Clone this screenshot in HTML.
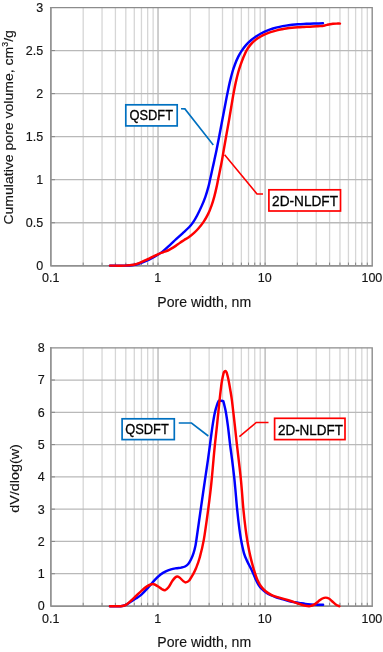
<!DOCTYPE html><html><head><meta charset="utf-8"><title>Pore size distribution</title>
<style>html,body{margin:0;padding:0;background:#fff}svg{display:block}text{font-family:"Liberation Sans", sans-serif;fill:#141414;stroke:#141414;stroke-width:0.15}</style></head><body>
<svg width="383" height="652" viewBox="0 0 383 652">
<rect width="383" height="652" fill="#fff"/>
<line x1="83.19" y1="7.50" x2="83.19" y2="265.80" stroke="#d6d6d6" stroke-width="1.3"/>
<line x1="83.19" y1="262.60" x2="83.19" y2="265.80" stroke="#858585" stroke-width="1"/>
<line x1="102.04" y1="7.50" x2="102.04" y2="265.80" stroke="#d6d6d6" stroke-width="1.3"/>
<line x1="102.04" y1="262.60" x2="102.04" y2="265.80" stroke="#858585" stroke-width="1"/>
<line x1="115.42" y1="7.50" x2="115.42" y2="265.80" stroke="#d6d6d6" stroke-width="1.3"/>
<line x1="115.42" y1="262.60" x2="115.42" y2="265.80" stroke="#858585" stroke-width="1"/>
<line x1="125.80" y1="7.50" x2="125.80" y2="265.80" stroke="#d6d6d6" stroke-width="1.3"/>
<line x1="125.80" y1="262.60" x2="125.80" y2="265.80" stroke="#858585" stroke-width="1"/>
<line x1="134.28" y1="7.50" x2="134.28" y2="265.80" stroke="#d6d6d6" stroke-width="1.3"/>
<line x1="134.28" y1="262.60" x2="134.28" y2="265.80" stroke="#858585" stroke-width="1"/>
<line x1="141.45" y1="7.50" x2="141.45" y2="265.80" stroke="#d6d6d6" stroke-width="1.3"/>
<line x1="141.45" y1="262.60" x2="141.45" y2="265.80" stroke="#858585" stroke-width="1"/>
<line x1="147.66" y1="7.50" x2="147.66" y2="265.80" stroke="#d6d6d6" stroke-width="1.3"/>
<line x1="147.66" y1="262.60" x2="147.66" y2="265.80" stroke="#858585" stroke-width="1"/>
<line x1="153.13" y1="7.50" x2="153.13" y2="265.80" stroke="#d6d6d6" stroke-width="1.3"/>
<line x1="153.13" y1="262.60" x2="153.13" y2="265.80" stroke="#858585" stroke-width="1"/>
<line x1="158.03" y1="7.50" x2="158.03" y2="265.80" stroke="#bababa" stroke-width="1.4"/>
<line x1="158.03" y1="262.60" x2="158.03" y2="265.80" stroke="#858585" stroke-width="1"/>
<line x1="190.27" y1="7.50" x2="190.27" y2="265.80" stroke="#d6d6d6" stroke-width="1.3"/>
<line x1="190.27" y1="262.60" x2="190.27" y2="265.80" stroke="#858585" stroke-width="1"/>
<line x1="209.13" y1="7.50" x2="209.13" y2="265.80" stroke="#d6d6d6" stroke-width="1.3"/>
<line x1="209.13" y1="262.60" x2="209.13" y2="265.80" stroke="#858585" stroke-width="1"/>
<line x1="222.50" y1="7.50" x2="222.50" y2="265.80" stroke="#d6d6d6" stroke-width="1.3"/>
<line x1="222.50" y1="262.60" x2="222.50" y2="265.80" stroke="#858585" stroke-width="1"/>
<line x1="232.88" y1="7.50" x2="232.88" y2="265.80" stroke="#d6d6d6" stroke-width="1.3"/>
<line x1="232.88" y1="262.60" x2="232.88" y2="265.80" stroke="#858585" stroke-width="1"/>
<line x1="241.36" y1="7.50" x2="241.36" y2="265.80" stroke="#d6d6d6" stroke-width="1.3"/>
<line x1="241.36" y1="262.60" x2="241.36" y2="265.80" stroke="#858585" stroke-width="1"/>
<line x1="248.53" y1="7.50" x2="248.53" y2="265.80" stroke="#d6d6d6" stroke-width="1.3"/>
<line x1="248.53" y1="262.60" x2="248.53" y2="265.80" stroke="#858585" stroke-width="1"/>
<line x1="254.74" y1="7.50" x2="254.74" y2="265.80" stroke="#d6d6d6" stroke-width="1.3"/>
<line x1="254.74" y1="262.60" x2="254.74" y2="265.80" stroke="#858585" stroke-width="1"/>
<line x1="260.22" y1="7.50" x2="260.22" y2="265.80" stroke="#d6d6d6" stroke-width="1.3"/>
<line x1="260.22" y1="262.60" x2="260.22" y2="265.80" stroke="#858585" stroke-width="1"/>
<line x1="265.12" y1="7.50" x2="265.12" y2="265.80" stroke="#bababa" stroke-width="1.4"/>
<line x1="265.12" y1="262.60" x2="265.12" y2="265.80" stroke="#858585" stroke-width="1"/>
<line x1="297.35" y1="7.50" x2="297.35" y2="265.80" stroke="#d6d6d6" stroke-width="1.3"/>
<line x1="297.35" y1="262.60" x2="297.35" y2="265.80" stroke="#858585" stroke-width="1"/>
<line x1="316.21" y1="7.50" x2="316.21" y2="265.80" stroke="#d6d6d6" stroke-width="1.3"/>
<line x1="316.21" y1="262.60" x2="316.21" y2="265.80" stroke="#858585" stroke-width="1"/>
<line x1="329.59" y1="7.50" x2="329.59" y2="265.80" stroke="#d6d6d6" stroke-width="1.3"/>
<line x1="329.59" y1="262.60" x2="329.59" y2="265.80" stroke="#858585" stroke-width="1"/>
<line x1="339.96" y1="7.50" x2="339.96" y2="265.80" stroke="#d6d6d6" stroke-width="1.3"/>
<line x1="339.96" y1="262.60" x2="339.96" y2="265.80" stroke="#858585" stroke-width="1"/>
<line x1="348.44" y1="7.50" x2="348.44" y2="265.80" stroke="#d6d6d6" stroke-width="1.3"/>
<line x1="348.44" y1="262.60" x2="348.44" y2="265.80" stroke="#858585" stroke-width="1"/>
<line x1="355.61" y1="7.50" x2="355.61" y2="265.80" stroke="#d6d6d6" stroke-width="1.3"/>
<line x1="355.61" y1="262.60" x2="355.61" y2="265.80" stroke="#858585" stroke-width="1"/>
<line x1="361.82" y1="7.50" x2="361.82" y2="265.80" stroke="#d6d6d6" stroke-width="1.3"/>
<line x1="361.82" y1="262.60" x2="361.82" y2="265.80" stroke="#858585" stroke-width="1"/>
<line x1="367.30" y1="7.50" x2="367.30" y2="265.80" stroke="#d6d6d6" stroke-width="1.3"/>
<line x1="367.30" y1="262.60" x2="367.30" y2="265.80" stroke="#858585" stroke-width="1"/>
<line x1="50.95" y1="222.75" x2="372.20" y2="222.75" stroke="#b9b9b9" stroke-width="1.3"/>
<line x1="50.95" y1="222.75" x2="54.95" y2="222.75" stroke="#858585" stroke-width="1"/>
<line x1="50.95" y1="179.70" x2="372.20" y2="179.70" stroke="#b9b9b9" stroke-width="1.3"/>
<line x1="50.95" y1="179.70" x2="54.95" y2="179.70" stroke="#858585" stroke-width="1"/>
<line x1="50.95" y1="136.65" x2="372.20" y2="136.65" stroke="#b9b9b9" stroke-width="1.3"/>
<line x1="50.95" y1="136.65" x2="54.95" y2="136.65" stroke="#858585" stroke-width="1"/>
<line x1="50.95" y1="93.60" x2="372.20" y2="93.60" stroke="#b9b9b9" stroke-width="1.3"/>
<line x1="50.95" y1="93.60" x2="54.95" y2="93.60" stroke="#858585" stroke-width="1"/>
<line x1="50.95" y1="50.55" x2="372.20" y2="50.55" stroke="#b9b9b9" stroke-width="1.3"/>
<line x1="50.95" y1="50.55" x2="54.95" y2="50.55" stroke="#858585" stroke-width="1"/>
<path d="M49.95,7.60 H372.20 V266.10" fill="none" stroke="#8c8c8c" stroke-width="1.4"/>
<path d="M50.90,6.90 V265.85 H372.90" fill="none" stroke="#909090" stroke-width="1.7" stroke-linejoin="round"/>
<text x="43.2" y="270.20" text-anchor="end" font-size="12.5">0</text>
<text x="43.2" y="227.15" text-anchor="end" font-size="12.5">0.5</text>
<text x="43.2" y="184.10" text-anchor="end" font-size="12.5">1</text>
<text x="43.2" y="141.05" text-anchor="end" font-size="12.5">1.5</text>
<text x="43.2" y="98.00" text-anchor="end" font-size="12.5">2</text>
<text x="43.2" y="54.95" text-anchor="end" font-size="12.5">2.5</text>
<text x="43.2" y="11.90" text-anchor="end" font-size="12.5">3</text>
<text x="50.65" y="282.40" text-anchor="middle" font-size="12.5">0.1</text>
<text x="157.73" y="282.40" text-anchor="middle" font-size="12.5">1</text>
<text x="264.82" y="282.40" text-anchor="middle" font-size="12.5">10</text>
<text x="371.90" y="282.40" text-anchor="middle" font-size="12.5">100</text>
<path d="M110.00,265.60 C112.43,265.60 120.65,265.70 124.60,265.60 C128.55,265.50 131.11,265.39 133.70,265.00 C136.29,264.61 137.93,263.99 140.12,263.25 C142.30,262.52 145.16,261.29 146.80,260.60 C148.44,259.91 148.13,260.08 149.95,259.11 C151.78,258.13 155.63,256.04 157.77,254.75 C159.91,253.46 160.84,252.93 162.81,251.36 C164.79,249.78 167.39,247.33 169.61,245.31 C171.83,243.29 173.95,241.22 176.12,239.22 C178.29,237.22 180.45,235.30 182.61,233.31 C184.77,231.32 187.35,229.04 189.06,227.26 C190.77,225.48 191.54,224.62 192.88,222.65 C194.22,220.68 195.61,218.29 197.11,215.45 C198.60,212.61 200.46,208.78 201.85,205.63 C203.24,202.48 204.38,199.59 205.45,196.55 C206.52,193.50 207.49,190.15 208.25,187.36 C209.02,184.57 209.33,182.85 210.02,179.81 C210.71,176.76 211.66,172.40 212.39,169.10 C213.12,165.80 213.71,163.19 214.40,160.00 C215.09,156.82 215.74,153.90 216.54,149.99 C217.34,146.08 218.21,141.61 219.19,136.55 C220.16,131.48 221.24,125.69 222.40,119.60 C223.56,113.51 225.29,104.35 226.12,100.00 C226.95,95.65 226.81,96.40 227.40,93.50 C228.00,90.60 228.88,86.17 229.70,82.62 C230.52,79.08 231.47,75.27 232.34,72.24 C233.21,69.21 233.92,67.05 234.92,64.44 C235.91,61.84 237.15,58.91 238.30,56.60 C239.45,54.29 240.52,52.49 241.81,50.57 C243.09,48.65 244.42,46.84 246.00,45.08 C247.59,43.33 249.57,41.51 251.31,40.04 C253.05,38.56 254.89,37.30 256.43,36.25 C257.97,35.19 258.88,34.61 260.56,33.71 C262.25,32.81 264.48,31.70 266.56,30.84 C268.64,29.97 270.88,29.19 273.04,28.53 C275.20,27.87 277.33,27.35 279.51,26.86 C281.69,26.37 284.03,25.94 286.12,25.60 C288.20,25.25 290.04,25.04 292.00,24.82 C293.97,24.60 295.90,24.41 297.90,24.26 C299.90,24.11 301.98,24.01 304.00,23.92 C306.02,23.83 307.90,23.77 310.00,23.70 C312.10,23.63 314.43,23.57 316.60,23.50 C318.77,23.43 321.93,23.33 323.00,23.30" fill="none" stroke="#0000ff" stroke-width="2.45" stroke-linecap="round" stroke-linejoin="round"/>
<path d="M110.00,265.60 C112.43,265.60 120.65,265.73 124.60,265.60 C128.55,265.47 131.12,265.29 133.70,264.80 C136.28,264.31 137.92,263.53 140.11,262.66 C142.29,261.80 145.16,260.39 146.81,259.62 C148.46,258.86 148.15,258.96 149.99,258.08 C151.83,257.19 155.68,255.29 157.85,254.32 C160.03,253.35 161.59,252.82 163.02,252.27 C164.46,251.73 165.36,251.52 166.45,251.07 C167.54,250.62 168.49,250.14 169.58,249.56 C170.67,248.98 171.92,248.25 172.99,247.59 C174.07,246.93 174.86,246.43 176.04,245.62 C177.22,244.80 178.74,243.59 180.06,242.68 C181.37,241.77 182.44,241.12 183.94,240.16 C185.43,239.21 187.30,238.23 189.03,236.96 C190.77,235.70 192.80,233.97 194.36,232.56 C195.92,231.14 196.84,230.27 198.38,228.49 C199.91,226.70 201.94,224.28 203.57,221.85 C205.21,219.41 206.84,216.59 208.17,213.89 C209.49,211.19 210.52,208.53 211.54,205.65 C212.57,202.76 213.47,199.62 214.30,196.57 C215.13,193.53 215.89,190.18 216.51,187.38 C217.14,184.59 217.43,182.86 218.05,179.81 C218.68,176.76 219.60,172.40 220.27,169.09 C220.93,165.79 221.45,163.17 222.03,159.99 C222.61,156.81 223.06,153.91 223.74,150.01 C224.42,146.10 225.21,141.62 226.11,136.55 C227.01,131.48 228.08,125.68 229.13,119.59 C230.18,113.50 231.68,104.35 232.41,100.00 C233.15,95.65 232.99,96.40 233.54,93.51 C234.08,90.61 234.91,86.16 235.70,82.62 C236.48,79.08 237.41,75.28 238.25,72.24 C239.10,69.21 239.85,67.04 240.76,64.42 C241.68,61.80 242.81,58.83 243.76,56.53 C244.72,54.22 245.42,52.50 246.49,50.60 C247.55,48.70 248.69,46.86 250.15,45.11 C251.61,43.35 253.57,41.50 255.26,40.10 C256.94,38.70 258.57,37.71 260.27,36.71 C261.96,35.72 263.74,34.86 265.45,34.11 C267.16,33.36 268.63,32.81 270.53,32.19 C272.42,31.57 274.91,30.88 276.82,30.38 C278.73,29.88 280.45,29.53 282.00,29.21 C283.55,28.90 284.44,28.72 286.11,28.47 C287.78,28.23 290.04,27.94 292.00,27.74 C293.97,27.53 295.90,27.38 297.90,27.24 C299.90,27.11 301.98,27.02 304.00,26.92 C306.02,26.82 307.90,26.77 310.00,26.67 C312.10,26.57 314.93,26.40 316.60,26.31 C318.27,26.23 319.02,26.21 320.00,26.14 C320.98,26.08 321.69,26.04 322.49,25.93 C323.29,25.81 324.04,25.64 324.79,25.46 C325.54,25.28 326.14,25.06 327.01,24.84 C327.88,24.63 329.01,24.35 330.01,24.17 C331.01,23.99 331.92,23.84 333.00,23.75 C334.08,23.66 335.33,23.62 336.50,23.60 C337.67,23.58 339.42,23.60 340.00,23.60" fill="none" stroke="#ff0000" stroke-width="2.45" stroke-linecap="round" stroke-linejoin="round"/>
<polyline points="181,108.8 184.9,108.9 213.3,145" fill="none" stroke="#0070c0" stroke-width="1.6"/>
<polyline points="224.6,154.8 257,194 263,194" fill="none" stroke="#ff0000" stroke-width="1.6"/>
<rect x="125.80" y="104.80" width="51.40" height="21.10" fill="#fff" stroke="#0070c0" stroke-width="1.7"/><text x="129.40" y="120.30" font-size="14.7" textLength="43.60" lengthAdjust="spacingAndGlyphs" style="fill:#000;stroke:#000;stroke-width:0.3">QSDFT</text>
<rect x="268.90" y="189.80" width="71.60" height="21.20" fill="#fff" stroke="#ff0000" stroke-width="1.7"/><text x="272.10" y="205.80" font-size="14.7" textLength="65.90" lengthAdjust="spacingAndGlyphs" style="fill:#000;stroke:#000;stroke-width:0.3">2D-NLDFT</text>
<text x="157.3" y="307.3" font-size="14.1" textLength="93.8" lengthAdjust="spacingAndGlyphs">Pore width, nm</text>
<text transform="translate(13,224.6) rotate(-90)" font-size="13.6" textLength="194.5" lengthAdjust="spacingAndGlyphs">Cumulative pore volume, cm<tspan font-size="8.5" dy="-5">3</tspan><tspan dy="5">/g</tspan></text>
<line x1="83.19" y1="347.75" x2="83.19" y2="606.00" stroke="#d6d6d6" stroke-width="1.3"/>
<line x1="83.19" y1="602.80" x2="83.19" y2="606.00" stroke="#858585" stroke-width="1"/>
<line x1="102.04" y1="347.75" x2="102.04" y2="606.00" stroke="#d6d6d6" stroke-width="1.3"/>
<line x1="102.04" y1="602.80" x2="102.04" y2="606.00" stroke="#858585" stroke-width="1"/>
<line x1="115.42" y1="347.75" x2="115.42" y2="606.00" stroke="#d6d6d6" stroke-width="1.3"/>
<line x1="115.42" y1="602.80" x2="115.42" y2="606.00" stroke="#858585" stroke-width="1"/>
<line x1="125.80" y1="347.75" x2="125.80" y2="606.00" stroke="#d6d6d6" stroke-width="1.3"/>
<line x1="125.80" y1="602.80" x2="125.80" y2="606.00" stroke="#858585" stroke-width="1"/>
<line x1="134.28" y1="347.75" x2="134.28" y2="606.00" stroke="#d6d6d6" stroke-width="1.3"/>
<line x1="134.28" y1="602.80" x2="134.28" y2="606.00" stroke="#858585" stroke-width="1"/>
<line x1="141.45" y1="347.75" x2="141.45" y2="606.00" stroke="#d6d6d6" stroke-width="1.3"/>
<line x1="141.45" y1="602.80" x2="141.45" y2="606.00" stroke="#858585" stroke-width="1"/>
<line x1="147.66" y1="347.75" x2="147.66" y2="606.00" stroke="#d6d6d6" stroke-width="1.3"/>
<line x1="147.66" y1="602.80" x2="147.66" y2="606.00" stroke="#858585" stroke-width="1"/>
<line x1="153.13" y1="347.75" x2="153.13" y2="606.00" stroke="#d6d6d6" stroke-width="1.3"/>
<line x1="153.13" y1="602.80" x2="153.13" y2="606.00" stroke="#858585" stroke-width="1"/>
<line x1="158.03" y1="347.75" x2="158.03" y2="606.00" stroke="#bababa" stroke-width="1.4"/>
<line x1="158.03" y1="602.80" x2="158.03" y2="606.00" stroke="#858585" stroke-width="1"/>
<line x1="190.27" y1="347.75" x2="190.27" y2="606.00" stroke="#d6d6d6" stroke-width="1.3"/>
<line x1="190.27" y1="602.80" x2="190.27" y2="606.00" stroke="#858585" stroke-width="1"/>
<line x1="209.13" y1="347.75" x2="209.13" y2="606.00" stroke="#d6d6d6" stroke-width="1.3"/>
<line x1="209.13" y1="602.80" x2="209.13" y2="606.00" stroke="#858585" stroke-width="1"/>
<line x1="222.50" y1="347.75" x2="222.50" y2="606.00" stroke="#d6d6d6" stroke-width="1.3"/>
<line x1="222.50" y1="602.80" x2="222.50" y2="606.00" stroke="#858585" stroke-width="1"/>
<line x1="232.88" y1="347.75" x2="232.88" y2="606.00" stroke="#d6d6d6" stroke-width="1.3"/>
<line x1="232.88" y1="602.80" x2="232.88" y2="606.00" stroke="#858585" stroke-width="1"/>
<line x1="241.36" y1="347.75" x2="241.36" y2="606.00" stroke="#d6d6d6" stroke-width="1.3"/>
<line x1="241.36" y1="602.80" x2="241.36" y2="606.00" stroke="#858585" stroke-width="1"/>
<line x1="248.53" y1="347.75" x2="248.53" y2="606.00" stroke="#d6d6d6" stroke-width="1.3"/>
<line x1="248.53" y1="602.80" x2="248.53" y2="606.00" stroke="#858585" stroke-width="1"/>
<line x1="254.74" y1="347.75" x2="254.74" y2="606.00" stroke="#d6d6d6" stroke-width="1.3"/>
<line x1="254.74" y1="602.80" x2="254.74" y2="606.00" stroke="#858585" stroke-width="1"/>
<line x1="260.22" y1="347.75" x2="260.22" y2="606.00" stroke="#d6d6d6" stroke-width="1.3"/>
<line x1="260.22" y1="602.80" x2="260.22" y2="606.00" stroke="#858585" stroke-width="1"/>
<line x1="265.12" y1="347.75" x2="265.12" y2="606.00" stroke="#bababa" stroke-width="1.4"/>
<line x1="265.12" y1="602.80" x2="265.12" y2="606.00" stroke="#858585" stroke-width="1"/>
<line x1="297.35" y1="347.75" x2="297.35" y2="606.00" stroke="#d6d6d6" stroke-width="1.3"/>
<line x1="297.35" y1="602.80" x2="297.35" y2="606.00" stroke="#858585" stroke-width="1"/>
<line x1="316.21" y1="347.75" x2="316.21" y2="606.00" stroke="#d6d6d6" stroke-width="1.3"/>
<line x1="316.21" y1="602.80" x2="316.21" y2="606.00" stroke="#858585" stroke-width="1"/>
<line x1="329.59" y1="347.75" x2="329.59" y2="606.00" stroke="#d6d6d6" stroke-width="1.3"/>
<line x1="329.59" y1="602.80" x2="329.59" y2="606.00" stroke="#858585" stroke-width="1"/>
<line x1="339.96" y1="347.75" x2="339.96" y2="606.00" stroke="#d6d6d6" stroke-width="1.3"/>
<line x1="339.96" y1="602.80" x2="339.96" y2="606.00" stroke="#858585" stroke-width="1"/>
<line x1="348.44" y1="347.75" x2="348.44" y2="606.00" stroke="#d6d6d6" stroke-width="1.3"/>
<line x1="348.44" y1="602.80" x2="348.44" y2="606.00" stroke="#858585" stroke-width="1"/>
<line x1="355.61" y1="347.75" x2="355.61" y2="606.00" stroke="#d6d6d6" stroke-width="1.3"/>
<line x1="355.61" y1="602.80" x2="355.61" y2="606.00" stroke="#858585" stroke-width="1"/>
<line x1="361.82" y1="347.75" x2="361.82" y2="606.00" stroke="#d6d6d6" stroke-width="1.3"/>
<line x1="361.82" y1="602.80" x2="361.82" y2="606.00" stroke="#858585" stroke-width="1"/>
<line x1="367.30" y1="347.75" x2="367.30" y2="606.00" stroke="#d6d6d6" stroke-width="1.3"/>
<line x1="367.30" y1="602.80" x2="367.30" y2="606.00" stroke="#858585" stroke-width="1"/>
<line x1="50.95" y1="573.72" x2="372.20" y2="573.72" stroke="#b9b9b9" stroke-width="1.3"/>
<line x1="50.95" y1="573.72" x2="54.95" y2="573.72" stroke="#858585" stroke-width="1"/>
<line x1="50.95" y1="541.44" x2="372.20" y2="541.44" stroke="#b9b9b9" stroke-width="1.3"/>
<line x1="50.95" y1="541.44" x2="54.95" y2="541.44" stroke="#858585" stroke-width="1"/>
<line x1="50.95" y1="509.16" x2="372.20" y2="509.16" stroke="#b9b9b9" stroke-width="1.3"/>
<line x1="50.95" y1="509.16" x2="54.95" y2="509.16" stroke="#858585" stroke-width="1"/>
<line x1="50.95" y1="476.88" x2="372.20" y2="476.88" stroke="#b9b9b9" stroke-width="1.3"/>
<line x1="50.95" y1="476.88" x2="54.95" y2="476.88" stroke="#858585" stroke-width="1"/>
<line x1="50.95" y1="444.59" x2="372.20" y2="444.59" stroke="#b9b9b9" stroke-width="1.3"/>
<line x1="50.95" y1="444.59" x2="54.95" y2="444.59" stroke="#858585" stroke-width="1"/>
<line x1="50.95" y1="412.31" x2="372.20" y2="412.31" stroke="#b9b9b9" stroke-width="1.3"/>
<line x1="50.95" y1="412.31" x2="54.95" y2="412.31" stroke="#858585" stroke-width="1"/>
<line x1="50.95" y1="380.03" x2="372.20" y2="380.03" stroke="#b9b9b9" stroke-width="1.3"/>
<line x1="50.95" y1="380.03" x2="54.95" y2="380.03" stroke="#858585" stroke-width="1"/>
<path d="M49.95,347.85 H372.20 V606.30" fill="none" stroke="#8c8c8c" stroke-width="1.4"/>
<path d="M50.90,347.15 V606.05 H372.90" fill="none" stroke="#909090" stroke-width="1.7" stroke-linejoin="round"/>
<text x="44.8" y="610.40" text-anchor="end" font-size="12.5">0</text>
<text x="44.8" y="578.12" text-anchor="end" font-size="12.5">1</text>
<text x="44.8" y="545.84" text-anchor="end" font-size="12.5">2</text>
<text x="44.8" y="513.56" text-anchor="end" font-size="12.5">3</text>
<text x="44.8" y="481.27" text-anchor="end" font-size="12.5">4</text>
<text x="44.8" y="448.99" text-anchor="end" font-size="12.5">5</text>
<text x="44.8" y="416.71" text-anchor="end" font-size="12.5">6</text>
<text x="44.8" y="384.43" text-anchor="end" font-size="12.5">7</text>
<text x="44.8" y="352.15" text-anchor="end" font-size="12.5">8</text>
<text x="50.65" y="622.60" text-anchor="middle" font-size="12.5">0.1</text>
<text x="157.73" y="622.60" text-anchor="middle" font-size="12.5">1</text>
<text x="264.82" y="622.60" text-anchor="middle" font-size="12.5">10</text>
<text x="371.90" y="622.60" text-anchor="middle" font-size="12.5">100</text>
<path d="M110.00,606.20 C111.78,606.20 118.05,606.42 120.70,606.20 C123.35,605.98 124.16,605.69 125.90,604.90 C127.64,604.11 129.42,602.57 131.14,601.47 C132.87,600.38 134.54,599.47 136.25,598.32 C137.96,597.17 139.64,596.09 141.40,594.56 C143.15,593.03 145.21,590.82 146.75,589.16 C148.30,587.50 149.26,586.24 150.69,584.59 C152.12,582.95 153.67,581.00 155.31,579.31 C156.96,577.62 158.84,575.79 160.59,574.45 C162.33,573.11 164.06,572.14 165.79,571.29 C167.51,570.44 169.23,569.87 170.95,569.37 C172.67,568.87 174.39,568.60 176.11,568.30 C177.84,568.00 179.79,567.89 181.28,567.58 C182.77,567.28 183.89,567.08 185.05,566.48 C186.20,565.87 187.24,565.12 188.23,563.96 C189.21,562.81 190.07,561.35 190.95,559.53 C191.84,557.71 192.81,555.22 193.53,553.04 C194.25,550.87 194.80,548.65 195.27,546.47 C195.74,544.30 195.46,546.19 196.37,540.00 C197.28,533.80 199.54,517.64 200.72,509.30 C201.91,500.97 202.72,495.40 203.50,490.00 C204.28,484.60 204.68,481.97 205.42,476.90 C206.17,471.84 207.21,464.97 207.98,459.59 C208.74,454.21 209.24,450.18 210.00,444.60 C210.75,439.02 211.70,431.42 212.50,426.12 C213.31,420.81 214.06,416.34 214.83,412.75 C215.59,409.16 216.45,406.57 217.11,404.58 C217.77,402.59 218.52,401.43 218.80,400.80 C219.17,400.78 220.25,400.65 221.00,400.70 C221.75,400.75 222.92,401.03 223.30,401.10 C223.53,402.00 224.22,404.57 224.66,406.51 C225.11,408.45 225.43,409.46 225.97,412.72 C226.52,415.99 227.26,420.81 227.94,426.12 C228.63,431.43 229.39,438.99 230.08,444.58 C230.77,450.16 231.40,454.23 232.08,459.62 C232.76,465.00 233.59,471.84 234.15,476.91 C234.71,481.97 234.93,484.61 235.43,490.01 C235.93,495.40 236.48,502.76 237.15,509.29 C237.81,515.82 238.76,524.07 239.42,529.18 C240.07,534.30 240.60,537.10 241.09,539.98 C241.58,542.87 241.90,544.33 242.38,546.50 C242.85,548.68 243.27,550.85 243.94,553.03 C244.61,555.20 245.56,557.60 246.40,559.56 C247.23,561.51 248.11,563.13 248.95,564.77 C249.79,566.42 250.66,567.92 251.41,569.44 C252.16,570.97 252.74,572.30 253.44,573.92 C254.14,575.54 254.81,577.42 255.61,579.15 C256.41,580.88 257.25,582.71 258.24,584.32 C259.23,585.92 260.31,587.45 261.54,588.77 C262.78,590.08 264.12,591.13 265.66,592.21 C267.21,593.29 269.09,594.42 270.82,595.26 C272.54,596.09 274.31,596.66 276.02,597.24 C277.73,597.82 278.81,598.09 281.09,598.75 C283.36,599.41 287.33,600.62 289.65,601.21 C291.96,601.80 293.24,601.97 295.00,602.29 C296.76,602.60 298.46,602.85 300.20,603.12 C301.93,603.39 303.66,603.69 305.41,603.90 C307.16,604.11 308.74,604.25 310.70,604.40 C312.66,604.55 315.13,604.73 317.20,604.80 C319.27,604.87 322.12,604.80 323.10,604.80" fill="none" stroke="#0000ff" stroke-width="2.45" stroke-linecap="round" stroke-linejoin="round"/>
<path d="M110.00,606.20 C111.78,606.20 118.05,606.43 120.70,606.20 C123.35,605.97 124.19,605.71 125.90,604.80 C127.61,603.89 129.24,602.27 130.97,600.75 C132.71,599.24 134.53,597.41 136.31,595.71 C138.09,594.01 139.89,592.13 141.67,590.58 C143.45,589.02 145.46,587.39 146.97,586.38 C148.47,585.36 149.54,584.86 150.70,584.50 C151.86,584.14 152.72,583.90 153.90,584.20 C155.08,584.50 156.50,585.50 157.80,586.30 C159.10,587.10 160.50,588.35 161.70,589.00 C162.90,589.65 163.90,590.43 165.00,590.20 C166.10,589.97 167.06,589.18 168.30,587.60 C169.54,586.02 171.27,582.43 172.47,580.70 C173.67,578.97 174.68,577.90 175.50,577.20 C176.32,576.50 176.65,576.38 177.40,576.50 C178.15,576.62 179.02,577.13 180.00,577.90 C180.98,578.67 182.32,580.35 183.30,581.10 C184.28,581.85 184.92,582.50 185.90,582.40 C186.88,582.30 188.03,581.82 189.20,580.50 C190.37,579.18 191.79,576.59 192.94,574.51 C194.09,572.43 194.98,570.85 196.11,568.02 C197.24,565.19 198.46,562.21 199.74,557.52 C201.02,552.84 202.38,547.94 203.79,539.91 C205.20,531.87 207.08,517.62 208.21,509.30 C209.35,500.98 209.98,495.39 210.61,489.99 C211.23,484.59 211.48,481.96 211.96,476.90 C212.45,471.83 213.01,464.98 213.50,459.60 C213.99,454.22 214.33,450.20 214.91,444.61 C215.48,439.03 216.37,431.41 216.93,426.09 C217.50,420.77 217.86,417.12 218.31,412.70 C218.76,408.29 219.15,404.03 219.63,399.60 C220.11,395.17 220.77,389.38 221.19,386.11 C221.60,382.85 221.77,381.98 222.13,380.01 C222.49,378.03 223.00,375.59 223.32,374.24 C223.65,372.88 223.79,372.44 224.10,371.90 C224.41,371.36 224.83,371.00 225.20,371.00 C225.57,371.00 225.97,371.36 226.30,371.90 C226.63,372.44 226.80,372.89 227.17,374.24 C227.54,375.59 228.00,377.39 228.52,380.02 C229.05,382.64 229.76,386.73 230.31,390.00 C230.86,393.27 231.32,395.84 231.83,399.62 C232.34,403.41 232.86,408.28 233.37,412.69 C233.89,417.11 234.32,420.79 234.91,426.11 C235.50,431.43 236.27,439.01 236.90,444.59 C237.52,450.17 238.04,454.22 238.66,459.60 C239.29,464.99 240.10,471.84 240.63,476.91 C241.16,481.97 241.37,484.61 241.82,490.01 C242.28,495.40 242.76,502.75 243.39,509.28 C244.02,515.81 244.98,524.07 245.62,529.18 C246.25,534.30 246.77,537.11 247.22,540.00 C247.67,542.88 247.93,544.31 248.34,546.49 C248.74,548.68 249.18,550.91 249.64,553.09 C250.11,555.27 250.60,557.43 251.14,559.59 C251.67,561.76 252.24,563.92 252.86,566.08 C253.47,568.25 254.04,570.26 254.81,572.60 C255.58,574.93 256.47,577.85 257.47,580.09 C258.46,582.32 259.42,584.14 260.78,586.00 C262.14,587.86 263.96,589.79 265.63,591.22 C267.30,592.66 269.08,593.69 270.80,594.60 C272.52,595.51 274.23,596.08 275.94,596.67 C277.65,597.26 279.15,597.59 281.09,598.15 C283.03,598.70 285.42,599.35 287.60,600.01 C289.77,600.67 292.12,601.43 294.16,602.12 C296.20,602.80 297.98,603.54 299.85,604.14 C301.73,604.73 303.71,605.37 305.40,605.70 C307.09,606.03 308.47,606.32 310.00,606.10 C311.53,605.88 313.17,605.22 314.60,604.40 C316.03,603.58 317.27,602.17 318.57,601.19 C319.87,600.21 321.21,599.10 322.40,598.50 C323.59,597.90 324.62,597.60 325.70,597.60 C326.78,597.60 327.83,597.90 328.90,598.50 C329.97,599.10 330.95,600.22 332.09,601.22 C333.23,602.21 334.52,603.60 335.74,604.45 C336.96,605.30 338.79,605.99 339.40,606.30" fill="none" stroke="#ff0000" stroke-width="2.45" stroke-linecap="round" stroke-linejoin="round"/>
<polyline points="178.75,423 191.5,423 208.3,436" fill="none" stroke="#0070c0" stroke-width="1.6"/>
<polyline points="239.4,436.6 256.25,422.5 268.5,422.5" fill="none" stroke="#ff0000" stroke-width="1.6"/>
<rect x="122.10" y="418.80" width="52.20" height="20.80" fill="#fff" stroke="#0070c0" stroke-width="1.7"/><text x="125.20" y="434.30" font-size="14.7" textLength="43.60" lengthAdjust="spacingAndGlyphs" style="fill:#000;stroke:#000;stroke-width:0.3">QSDFT</text>
<rect x="274.60" y="418.30" width="70.40" height="21.30" fill="#fff" stroke="#ff0000" stroke-width="1.7"/><text x="277.90" y="434.80" font-size="14.7" textLength="65.20" lengthAdjust="spacingAndGlyphs" style="fill:#000;stroke:#000;stroke-width:0.3">2D-NLDFT</text>
<text x="157.3" y="647.0" font-size="14.1" textLength="93.8" lengthAdjust="spacingAndGlyphs">Pore width, nm</text>
<text transform="translate(18.8,512.8) rotate(-90)" font-size="12.8" textLength="68.7" lengthAdjust="spacingAndGlyphs">dV/dlog(w)</text>
</svg></body></html>
